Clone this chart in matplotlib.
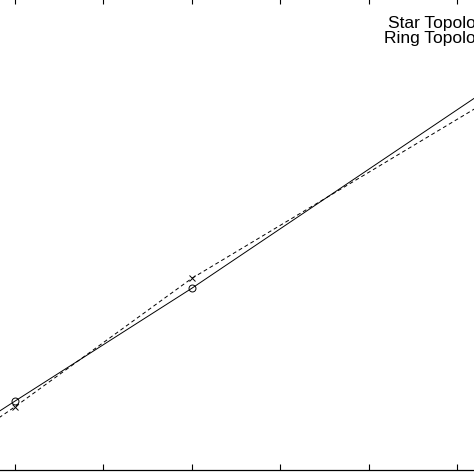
import matplotlib
matplotlib.use("Agg")
import matplotlib.pyplot as plt

# values (x in tick units, y in % of axis height)
x_vals = [0, 1, 3, 7]
star_vals = [2.5, 14.6, 38.5, 88.9]
ring_vals = [0.55, 13.4, 40.6, 85.5]
labels = ["Star Topology", "Ring Topology"]
x_ticks = [1, 2, 3, 4, 5, 6]

plt.rcParams["font.family"] = ["Liberation Sans", "DejaVu Sans"]

W = 474
fig = plt.figure(figsize=(4.74, 4.74), dpi=100)
# the axes is larger than the figure: the crop only shows its middle part
left_px, right_px = -73.4, 545.4
bottom_px, top_px = 470, -2
ax = fig.add_axes([left_px / W, (W - bottom_px) / W,
                   (right_px - left_px) / W, (bottom_px - top_px) / W])

ax.plot(x_vals, star_vals, color="black", linewidth=0.7, linestyle="-",
        marker="o", markersize=5, fillstyle="none", markeredgewidth=0.7,
        label=labels[0])
ax.plot(x_vals, ring_vals, color="black", linewidth=0.7, linestyle=(0, (4, 3)),
        marker="x", markersize=5, markeredgewidth=0.7, label=labels[1])

ax.set_xlim(0, 7)
ax.set_ylim(0, 100)
ax.set_xticks(x_ticks)
ax.set_yticks([])
ax.tick_params(axis="x", direction="in", length=4, width=0.8, top=True,
               bottom=True, labelbottom=False)
for s in ax.spines.values():
    s.set_linewidth(0.9)

# old-style legend: text right-aligned, line samples on the right (off the crop)
ax.legend(loc="upper left", bbox_to_anchor=(384 / W, 1 - 16 / W),
          bbox_transform=fig.transFigure, frameon=False, markerfirst=False,
          fontsize=12.5, borderpad=0, borderaxespad=0, labelspacing=0,
          handletextpad=0.6, handlelength=2.5)

fig.savefig("out.png", dpi=100)
